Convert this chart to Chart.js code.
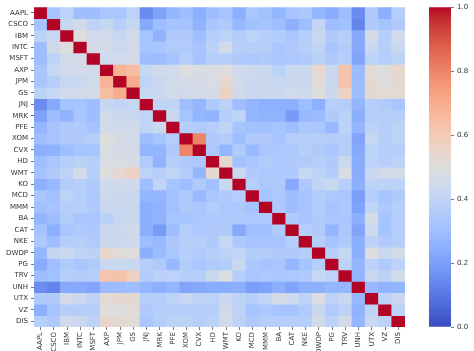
<!DOCTYPE html>
<html>
<head>
<meta charset="utf-8">
<script src="https://cdn.jsdelivr.net/npm/chart.js@4.4.1/dist/chart.umd.min.js"></script>
<style>
  html, body { margin: 0; padding: 0; background: #fff; }
  #wrap { position: relative; width: 474px; height: 351px; overflow: hidden; }
  #heat { position: absolute; left: 0; top: 0; width: 474px; height: 351px; }
  #bar { position: absolute; left: 420px; top: 0; width: 54px; height: 351px; }
</style>
</head>
<body>
<div id="wrap">
  <canvas id="heat" width="474" height="351"></canvas>
  <canvas id="bar" width="54" height="351"></canvas>
</div>
<script>
// tickers, in the order of the rows/columns
const tickers = ['AAPL', 'CSCO', 'IBM', 'INTC', 'MSFT', 'AXP', 'JPM', 'GS', 'JNJ', 'MRK', 'PFE',
  'XOM', 'CVX', 'HD', 'WMT', 'KO', 'MCD', 'MMM', 'BA', 'CAT', 'NKE', 'DWDP', 'PG', 'TRV',
  'UNH', 'UTX', 'VZ', 'DIS']

// upper triangle of the correlation matrix (row i holds columns i+1 .. end)
const rowAAPL = [0.32, 0.39, 0.30, 0.30, 0.33, 0.33, 0.39, 0.15, 0.21, 0.27, 0.30, 0.25, 0.30, 0.32, 0.25, 0.33, 0.31, 0.27, 0.32, 0.34, 0.27, 0.24, 0.30, 0.15, 0.35, 0.25, 0.37]
const rowCSCO = [0.42, 0.45, 0.39, 0.42, 0.37, 0.42, 0.23, 0.30, 0.32, 0.32, 0.26, 0.33, 0.35, 0.28, 0.31, 0.32, 0.30, 0.25, 0.30, 0.41, 0.30, 0.31, 0.13, 0.35, 0.32, 0.35]
const rowIBM = [0.50, 0.45, 0.45, 0.42, 0.45, 0.32, 0.26, 0.35, 0.35, 0.30, 0.37, 0.39, 0.36, 0.39, 0.37, 0.36, 0.33, 0.37, 0.43, 0.35, 0.37, 0.23, 0.46, 0.37, 0.45]
const rowINTC = [0.47, 0.46, 0.43, 0.46, 0.32, 0.33, 0.35, 0.35, 0.32, 0.38, 0.46, 0.37, 0.37, 0.37, 0.33, 0.35, 0.37, 0.40, 0.33, 0.36, 0.23, 0.43, 0.37, 0.43]
const rowMSFT = [0.45, 0.45, 0.47, 0.30, 0.30, 0.32, 0.37, 0.32, 0.37, 0.37, 0.35, 0.34, 0.35, 0.33, 0.34, 0.35, 0.38, 0.35, 0.37, 0.22, 0.39, 0.37, 0.39]
const rowAXP = [0.68, 0.65, 0.42, 0.45, 0.45, 0.50, 0.48, 0.48, 0.50, 0.45, 0.44, 0.43, 0.38, 0.43, 0.43, 0.54, 0.43, 0.62, 0.29, 0.52, 0.50, 0.55]
const rowJPM = [0.70, 0.40, 0.43, 0.45, 0.47, 0.47, 0.48, 0.54, 0.45, 0.43, 0.43, 0.42, 0.43, 0.43, 0.51, 0.43, 0.63, 0.29, 0.53, 0.50, 0.53]
const rowGS = [0.42, 0.43, 0.45, 0.45, 0.47, 0.47, 0.57, 0.45, 0.43, 0.43, 0.43, 0.45, 0.44, 0.50, 0.43, 0.57, 0.30, 0.53, 0.52, 0.52]
const rowJNJ = [0.40, 0.40, 0.30, 0.27, 0.35, 0.39, 0.30, 0.27, 0.25, 0.25, 0.25, 0.30, 0.25, 0.37, 0.36, 0.27, 0.37, 0.35, 0.33]
const rowMRK = [0.43, 0.32, 0.27, 0.26, 0.37, 0.40, 0.27, 0.26, 0.26, 0.19, 0.28, 0.29, 0.35, 0.38, 0.25, 0.37, 0.37, 0.37]
const rowPFE = [0.37, 0.35, 0.37, 0.40, 0.32, 0.31, 0.31, 0.32, 0.30, 0.34, 0.33, 0.28, 0.39, 0.27, 0.39, 0.37, 0.39]
const rowXOM = [0.80, 0.35, 0.36, 0.30, 0.35, 0.35, 0.32, 0.37, 0.37, 0.37, 0.36, 0.37, 0.22, 0.42, 0.37, 0.39]
const rowCVX = [0.34, 0.27, 0.35, 0.28, 0.33, 0.34, 0.34, 0.37, 0.35, 0.33, 0.37, 0.23, 0.39, 0.37, 0.37]
const rowHD = [0.53, 0.31, 0.33, 0.36, 0.34, 0.35, 0.35, 0.37, 0.35, 0.43, 0.24, 0.39, 0.37, 0.39]
const rowWMT = [0.43, 0.35, 0.34, 0.34, 0.35, 0.42, 0.39, 0.36, 0.48, 0.24, 0.43, 0.46, 0.46]
const rowKO = [0.37, 0.34, 0.35, 0.23, 0.34, 0.40, 0.43, 0.37, 0.25, 0.39, 0.39, 0.39]
const rowMCD = [0.32, 0.34, 0.30, 0.32, 0.36, 0.34, 0.33, 0.20, 0.37, 0.32, 0.35]
const rowMMM = [0.34, 0.30, 0.32, 0.36, 0.32, 0.34, 0.21, 0.40, 0.34, 0.37]
const rowBA = [0.35, 0.32, 0.35, 0.33, 0.33, 0.25, 0.47, 0.32, 0.37]
const rowCAT = [0.37, 0.35, 0.27, 0.34, 0.22, 0.44, 0.32, 0.37]
const rowNKE = [0.37, 0.32, 0.35, 0.25, 0.39, 0.35, 0.37]
const rowDWDP = [0.37, 0.42, 0.25, 0.49, 0.43, 0.46]
const rowPG = [0.39, 0.27, 0.39, 0.35, 0.39]
const rowTRV = [0.27, 0.43, 0.39, 0.46]
const rowUNH = [0.28, 0.26, 0.27]
const rowUTX = [0.39, 0.43]
const rowVZ = [0.39]
const rowDIS = []

const upper = [rowAAPL, rowCSCO, rowIBM, rowINTC, rowMSFT, rowAXP, rowJPM, rowGS, rowJNJ, rowMRK,
  rowPFE, rowXOM, rowCVX, rowHD, rowWMT, rowKO, rowMCD, rowMMM, rowBA, rowCAT, rowNKE, rowDWDP,
  rowPG, rowTRV, rowUNH, rowUTX, rowVZ, rowDIS]

const colorbarTicks = [0, 0.2, 0.4, 0.6, 0.8, 1.0]

// coolwarm colormap, 33 stops from 0 to 1
const COOLWARM = [
  [59, 76, 192], [68, 90, 204], [77, 104, 215], [87, 117, 225], [98, 130, 234], [108, 142, 241],
  [119, 154, 247], [130, 165, 251], [141, 176, 254], [152, 185, 255], [163, 194, 255], [174, 201, 253],
  [184, 208, 249], [194, 213, 244], [204, 217, 238], [213, 219, 230], [221, 221, 221], [229, 216, 209],
  [236, 211, 197], [241, 204, 184], [245, 196, 172], [247, 187, 159], [247, 177, 146], [247, 166, 133],
  [244, 154, 123], [241, 141, 111], [236, 127, 99], [229, 112, 88], [222, 96, 77], [213, 80, 66],
  [203, 62, 56], [192, 40, 47], [180, 4, 38]
]

function coolwarm(v) {
  let t = Math.max(0, Math.min(1, v)) * (COOLWARM.length - 1)
  let k = Math.min(Math.floor(t), COOLWARM.length - 2)
  let f = t - k
  let a = COOLWARM[k], b = COOLWARM[k + 1]
  let c = a.map((x, i) => Math.round(x + (b[i] - x) * f))
  return 'rgb(' + c.join(',') + ')'
}

// full symmetric matrix from the upper triangle
const corr = tickers.map((_, i) => tickers.map((_, j) => {
  if (i === j) return 1
  return i < j ? upper[i][j - i - 1] : upper[j][i - j - 1]
}))

const FONT = { family: 'DejaVu Sans', size: 7 }
const TEXT = '#333'

// each row is one stacked dataset, one unit tall per cell
const datasets = corr.map((row, i) => ({
  label: tickers[i],
  data: row.map(() => 1),
  backgroundColor: row.map(coolwarm),
  borderWidth: 0,
  barPercentage: 1,
  categoryPercentage: 1,
  yAxisID: 'yStack'
}))

new Chart(document.getElementById('heat'), {
  type: 'bar',
  data: { labels: tickers, datasets: datasets },
  options: {
    responsive: false,
    animation: false,
    devicePixelRatio: 1,
    layout: { padding: { top: 6, right: 69, left: 0, bottom: 0 } },
    plugins: { legend: { display: false }, tooltip: { enabled: false } },
    scales: {
      x: {
        stacked: true,
        grid: { display: true, drawOnChartArea: false, offset: false, tickLength: 3, color: '#777' },
        border: { display: false },
        ticks: { autoSkip: false, minRotation: 90, maxRotation: 90, font: FONT, color: TEXT, padding: 2 },
        afterFit: function (s) { s.height = 24 }
      },
      yStack: { type: 'linear', stacked: true, min: 0, max: tickers.length, reverse: true, display: false },
      y: {
        type: 'category',
        labels: tickers,
        position: 'left',
        offset: true,
        grid: { display: true, drawOnChartArea: false, offset: false, tickLength: 3, color: '#777' },
        border: { display: false },
        ticks: { autoSkip: false, font: FONT, color: TEXT, padding: 3 },
        afterFit: function (s) { s.width = 34 }
      }
    }
  }
})

function gradientFill(ctx) {
  let area = ctx.chart.chartArea
  if (!area) return null
  let g = ctx.chart.ctx.createLinearGradient(0, area.bottom, 0, area.top)
  COOLWARM.forEach(function (c, k) {
    g.addColorStop(k / (COOLWARM.length - 1), 'rgb(' + c.join(',') + ')')
  })
  return g
}

// colour bar
new Chart(document.getElementById('bar'), {
  type: 'bar',
  data: {
    labels: [''],
    datasets: [{
      data: [[colorbarTicks[0], colorbarTicks[colorbarTicks.length - 1]]],
      backgroundColor: gradientFill,
      borderWidth: 0,
      barPercentage: 1,
      categoryPercentage: 1
    }]
  },
  options: {
    responsive: false,
    animation: false,
    devicePixelRatio: 1,
    layout: { padding: { top: 6, left: 9, right: 0, bottom: 24 } },
    plugins: { legend: { display: false }, tooltip: { enabled: false } },
    scales: {
      x: { display: false },
      y: {
        position: 'right',
        min: 0,
        max: 1,
        afterBuildTicks: function (s) { s.ticks = colorbarTicks.map(v => ({ value: v })) },
        ticks: { font: FONT, color: TEXT, padding: 3, callback: v => v.toFixed(1) },
        grid: { display: true, drawOnChartArea: false, tickLength: 3, color: '#777' },
        border: { display: false },
        afterFit: function (s) { s.width = 23 }
      }
    }
  }
})
</script>
</body>
</html>
